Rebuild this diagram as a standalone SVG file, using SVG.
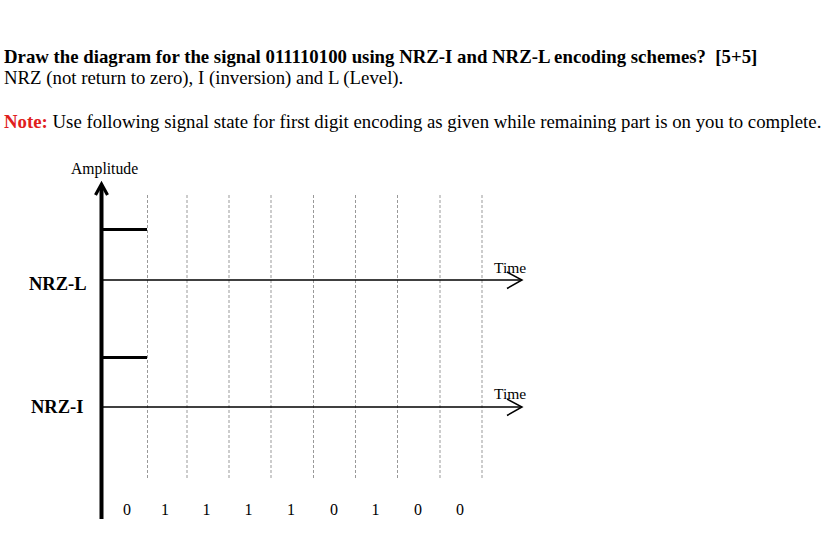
<svg xmlns="http://www.w3.org/2000/svg" width="837" height="538" viewBox="0 0 837 538">
<style>
  .t { font-family: "Liberation Serif", "Times New Roman", serif; fill: #000; }
  .b { font-weight: bold; }
  .grid { stroke: #999; stroke-width: 1; stroke-dasharray: 3 2; }
  .axis { stroke: #000; stroke-width: 1.5; fill: none; }
  .lvl { stroke: #000; stroke-width: 3; }
</style>
<rect width="837" height="538" fill="#fff"/>
<g id="header">
  <text class="t b" x="4" y="63" font-size="18.8" xml:space="preserve">Draw the diagram for the signal 011110100 using NRZ-I and NRZ-L encoding schemes?  [5+5]</text>
  <text class="t" x="4" y="84" font-size="18.8">NRZ (not return to zero), I (inversion) and L (Level).</text>
  <text class="t" x="4" y="128" font-size="18.8"><tspan fill="#e0201c" font-weight="bold">Note:</tspan> Use following signal state for first digit encoding as given while remaining part is on you to complete.</text>
</g>
<g id="grid">
  <line class="grid" x1="147.5" y1="195" x2="147.5" y2="478"/>
  <line class="grid" x1="187" y1="195" x2="187" y2="478"/>
  <line class="grid" x1="229" y1="195" x2="229" y2="478"/>
  <line class="grid" x1="271" y1="195" x2="271" y2="478"/>
  <line class="grid" x1="313.5" y1="195" x2="313.5" y2="478"/>
  <line class="grid" x1="355.5" y1="195" x2="355.5" y2="478"/>
  <line class="grid" x1="397.5" y1="195" x2="397.5" y2="478"/>
  <line class="grid" x1="440" y1="195" x2="440" y2="478"/>
  <line class="grid" x1="482" y1="195" x2="482" y2="478"/>
</g>
<g id="amplitude-axis">
  <line x1="101.5" y1="186" x2="101.5" y2="519" stroke="#000" stroke-width="4"/>
  <polyline points="95.5,195 101.5,184 107.5,195" fill="none" stroke="#000" stroke-width="3.2"/>
  <text class="t" x="71" y="174" font-size="15.7">Amplitude</text>
</g>
<g id="nrz-l">
  <text class="t b" x="29" y="290" font-size="18.5">NRZ-L</text>
  <line class="axis" x1="103" y1="280" x2="522" y2="280"/>
  <polyline class="axis" points="507,272 522,280 507,288.5" stroke-width="2"/>
  <text class="t" x="494" y="273" font-size="15.5">Time</text>
  <line class="lvl" x1="103" y1="229.5" x2="147" y2="229.5"/>
</g>
<g id="nrz-i">
  <text class="t b" x="31" y="413" font-size="18.5">NRZ-I</text>
  <line class="axis" x1="103" y1="407" x2="522" y2="407"/>
  <polyline class="axis" points="507,399 522,407 507,415.5" stroke-width="2"/>
  <text class="t" x="494" y="399" font-size="15.5">Time</text>
  <line class="lvl" x1="103" y1="357.5" x2="147" y2="357.5"/>
</g>
<g id="bits" class="t" font-size="16" text-anchor="middle">
  <text x="127" y="515">0</text>
  <text x="165" y="515">1</text>
  <text x="206.5" y="515">1</text>
  <text x="248.5" y="515">1</text>
  <text x="291" y="515">1</text>
  <text x="334" y="515">0</text>
  <text x="375.5" y="515">1</text>
  <text x="418" y="515">0</text>
  <text x="460" y="515">0</text>
</g>
</svg>
